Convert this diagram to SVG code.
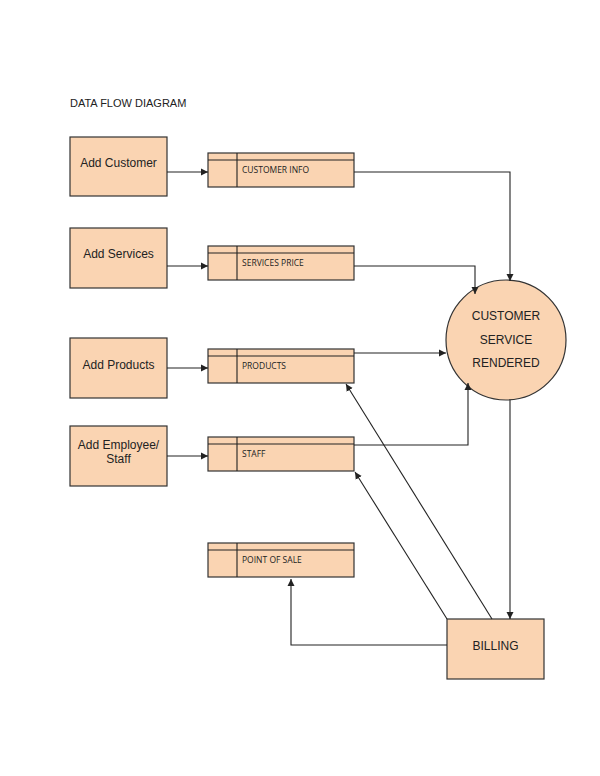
<svg xmlns="http://www.w3.org/2000/svg" width="600" height="776" viewBox="0 0 600 776">
<style>
.n{fill:#fad4b2;stroke:#333;stroke-width:1.2}
.l{fill:none;stroke:#222;stroke-width:1.1}
.t{font-family:"Liberation Sans",Arial,sans-serif;font-size:12px;fill:#222;text-anchor:middle}
.s{font-family:"Open Sans","Liberation Sans",sans-serif;font-size:8.5px;fill:#222}
</style>
<defs><marker id="a" markerWidth="8" markerHeight="8" refX="7" refY="4" orient="auto" markerUnits="userSpaceOnUse"><path d="M0,0.5 L7,4 L0,7.5z" fill="#222"/></marker></defs>
<rect width="600" height="776" fill="#fff"/>
<text x="70" y="107" style="font-family:'Liberation Sans',Arial,sans-serif;font-size:11px;fill:#222">DATA FLOW DIAGRAM</text>
<g id="addCustomer"><rect class="n" x="70" y="137" width="97" height="59"/><text class="t" x="118.5" y="167">Add Customer</text></g>
<g id="addServices"><rect class="n" x="70" y="228" width="97" height="60"/><text class="t" x="118.5" y="258">Add Services</text></g>
<g id="addProducts"><rect class="n" x="70" y="338" width="97" height="60"/><text class="t" x="118.5" y="369">Add Products</text></g>
<g id="addEmployee"><rect class="n" x="70" y="426" width="97" height="60"/><text class="t" x="118.5" y="449">Add Employee/</text><text class="t" x="118.5" y="463">Staff</text></g>
<g id="customerInfo"><rect class="n" x="208" y="153" width="146" height="34"/><path class="l" d="M208,160H354M237,153V187"/><text class="s" x="242" y="173">CUSTOMER INFO</text></g>
<g id="servicesPrice"><rect class="n" x="208" y="246" width="146" height="34"/><path class="l" d="M208,253H354M237,246V280"/><text class="s" x="242" y="266">SERVICES PRICE</text></g>
<g id="products"><rect class="n" x="208" y="349" width="146" height="34"/><path class="l" d="M208,356H354M237,349V383"/><text class="s" x="242" y="369">PRODUCTS</text></g>
<g id="staff"><rect class="n" x="208" y="437" width="146" height="34"/><path class="l" d="M208,444H354M237,437V471"/><text class="s" x="242" y="457">STAFF</text></g>
<g id="pos"><rect class="n" x="208" y="543" width="146" height="34"/><path class="l" d="M208,550H354M237,543V577"/><text class="s" x="242" y="563">POINT OF SALE</text></g>
<g id="csr"><circle class="n" cx="506" cy="340" r="60"/><text class="t" x="506" y="320">CUSTOMER</text><text class="t" x="506" y="344">SERVICE</text><text class="t" x="506" y="367">RENDERED</text></g>
<g id="billing"><rect class="n" x="447" y="619" width="97" height="60"/><text class="t" x="495.5" y="650">BILLING</text></g>
<g id="connectors">
<path class="l" marker-end="url(#a)" d="M167,172H208"/>
<path class="l" marker-end="url(#a)" d="M167,266H208"/>
<path class="l" marker-end="url(#a)" d="M167,368H208"/>
<path class="l" marker-end="url(#a)" d="M167,456H208"/>
<path class="l" marker-end="url(#a)" d="M354,172H510V281"/>
<path class="l" marker-end="url(#a)" d="M354,266H475V294"/>
<path class="l" marker-end="url(#a)" d="M354,353H446"/>
<path class="l" marker-end="url(#a)" d="M354,445H468V383"/>
<path class="l" marker-end="url(#a)" d="M510,400V619"/>
<path class="l" marker-end="url(#a)" d="M492,619L346,384"/>
<path class="l" marker-end="url(#a)" d="M447,619L355,472"/>
<path class="l" marker-end="url(#a)" d="M447,645H291V579"/>
</g>
</svg>
